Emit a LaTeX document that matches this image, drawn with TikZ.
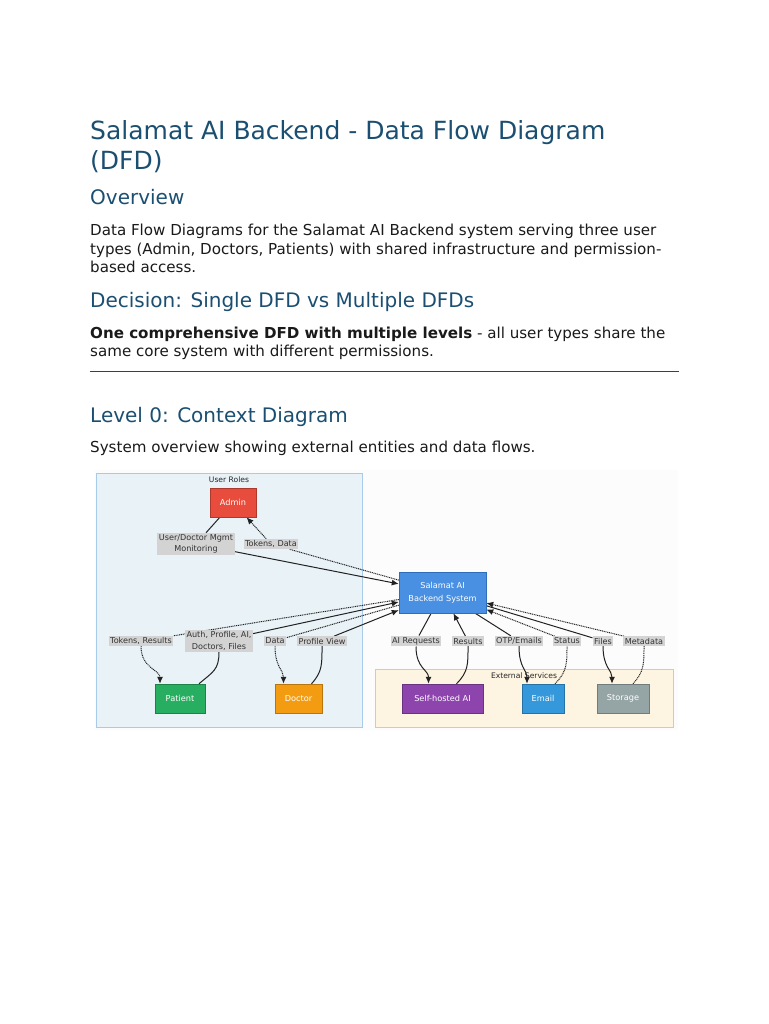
\documentclass[tikz,border=0pt]{standalone}
\usepackage{fontspec}
\setmainfont{DejaVu Sans}
\usetikzlibrary{arrows.meta,calc,backgrounds}
\pgfdeclarelayer{edges}
\pgfsetlayers{background,edges,main}
\definecolor{head}{HTML}{1B4F72}
\definecolor{txt}{HTML}{1A1A1A}
\definecolor{rolefill}{HTML}{E8F2F7}
\definecolor{roleline}{HTML}{A9CBEA}
\definecolor{extfill}{HTML}{FEF4E2}
\definecolor{extline}{HTML}{F3C67C}
\definecolor{cadmin}{HTML}{E74C3C}
\definecolor{cback}{HTML}{4A90E2}
\definecolor{cbackline}{HTML}{2E6DB8}
\definecolor{cpat}{HTML}{27AE60}
\definecolor{cdoc}{HTML}{F39C12}
\definecolor{cai}{HTML}{8E44AD}
\definecolor{cmail}{HTML}{3498DB}
\definecolor{cstore}{HTML}{95A5A6}
\definecolor{lblfill}{HTML}{D2D2D2}
\definecolor{edgecol}{HTML}{222222}
\tikzset{
  x=1pt, y=-1pt,
  hstyle/.style={anchor=base west, inner sep=0pt, text=head},
  bstyle/.style={anchor=base west, inner sep=0pt, text=txt, font=\fontsize{15.1}{18}\selectfont},
  proc/.style={draw=#1!75!black, fill=#1, text=white, line width=0.5pt, inner sep=0pt,
    minimum height=29pt, font=\fontsize{8.2}{12.5}\selectfont, align=center},
  lbl/.style={fill=lblfill, fill opacity=0.95, text opacity=1, text=black!80, inner sep=1.5pt,
    font=\fontsize{8.1}{11.5}\selectfont, align=center},
  flow/.style={draw=edgecol, line width=1pt},
  dflow/.style={draw=edgecol, line width=1pt, dash pattern=on 1pt off 0.8pt},
  arr/.style={-{Latex[length=7pt,width=6pt]}},
}
\begin{document}
\begin{tikzpicture}
\useasboundingbox (0,0) rectangle (768,1024);
\begin{pgfonlayer}{background}
\fill[white] (0,0) rectangle (768,1024);
\fill[black!1] (95,470) rectangle (678,730);
\draw[draw=roleline, fill=rolefill, line width=0.8pt] (96,473.5) rectangle (362,727);
\draw[draw=extline, fill=extfill, line width=0.8pt] (375,669.5) rectangle (673,727);
\end{pgfonlayer}

% ---------- text ----------
\node[hstyle, font=\fontsize{25}{30}\selectfont] (t1) at (90,140) {Salamat AI Backend - Data Flow Diagram};
\node[hstyle, font=\fontsize{25}{30}\selectfont] (t2) at (90,170) {(DFD)};
\node[hstyle, font=\fontsize{20}{24}\selectfont] (h1) at (90,205) {Overview};
\node[bstyle] (p1) at (90,236) {Data Flow Diagrams for the Salamat AI Backend system serving three user};
\node[bstyle] (p2) at (90,254) {types (Admin, Doctors, Patients) with shared infrastructure and permission-};
\node[bstyle] (p3) at (90,272) {based access.};
\node[hstyle, font=\fontsize{20}{24}\selectfont] (h2) at (90,307) {Decision: Single DFD vs Multiple DFDs};
\node[bstyle] (p4) at (90,338) {\textbf{One comprehensive DFD with multiple levels} - all user types share the};
\node[bstyle] (p5) at (90,356) {same core system with different permissions.};
\draw[line width=0.9pt, draw=black!75] (90,371.5) -- (679,371.5);
\node[hstyle, font=\fontsize{20}{24}\selectfont] (h3) at (90,422) {Level 0: Context Diagram};
\node[bstyle] (p6) at (90,452) {System overview showing external entities and data flows.};

% ---------- group titles ----------
\node[font=\fontsize{7.6}{9}\selectfont, text=black!85, inner sep=0pt] (troles) at (229,480) {User Roles};
\node[font=\fontsize{7.6}{9}\selectfont, text=black!85, inner sep=0pt] (text) at (524,675.5) {External Services};

% ---------- process nodes ----------
\node[proc=cadmin, minimum width=46pt] (admin) at (233,502.5) {Admin};
\node[proc=cback, draw=cbackline, minimum width=87pt, minimum height=41pt] (backend) at (442.5,592.5) {Salamat AI\\Backend System};
\node[proc=cpat, minimum width=50pt] (patient) at (180,698.5) {Patient};
\node[proc=cdoc, minimum width=47pt] (doctor) at (298.5,698.5) {Doctor};
\node[proc=cai, minimum width=81pt] (ai) at (442.5,698.5) {Self-hosted AI};
\node[proc=cmail, minimum width=42pt] (email) at (543,698.5) {Email};
\node[proc=cstore, minimum width=52pt] (storage) at (623,698.5) {Storage};

% ---------- labels ----------
\node[lbl] (lmgmt) at (196,544) {User/Doctor Mgmt\\Monitoring};
\node[lbl] (ltokdata) at (271,544) {Tokens, Data};
\node[lbl] (ltokres) at (141,641) {Tokens, Results};
\node[lbl] (lauth) at (219,641) {Auth, Profile, AI,\\Doctors, Files};
\node[lbl] (ldata) at (275,641) {Data};
\node[lbl] (lprof) at (322,641) {Profile View};
\node[lbl] (laireq) at (416,641) {AI Requests};
\node[lbl] (lres) at (468,641) {Results};
\node[lbl] (lotp) at (519,641) {OTP/Emails};
\node[lbl] (lstatus) at (567,641) {Status};
\node[lbl] (lfiles) at (603,641) {Files};
\node[lbl] (lmeta) at (644,641) {Metadata};

% ---------- edges ----------
\begin{pgfonlayer}{edges}
% Admin
\draw[flow] (admin) -- (lmgmt);
\draw[flow, arr] (lmgmt) -- (backend);
\draw[dflow] (backend) -- (ltokdata);
\draw[dflow, arr] (ltokdata) -- (admin);
% Patient
\draw[flow] ($(patient.north)+(19,0)$) .. controls ($(patient.north)+(33,-12)$) and ($(lauth.south)+(0,18)$) .. (lauth.south);
\draw[flow, arr] (lauth) -- (backend);
\draw[dflow] (backend) -- (ltokres);
\draw[dflow, arr] (ltokres.south) .. controls ($(ltokres.south)+(0,22)$) and ($(patient.north)+(-20,-14)$) .. ($(patient.north)+(-20,0)$);
% Doctor
\draw[flow] ($(doctor.north)+(13,0)$) .. controls ($(doctor.north)+(24,-12)$) and ($(lprof.south)+(0,18)$) .. (lprof.south);
\draw[flow, arr] (lprof) -- (backend);
\draw[dflow] (backend) -- (ldata);
\draw[dflow, arr] (ldata.south) .. controls ($(ldata.south)+(0,22)$) and ($(doctor.north)+(-15,-14)$) .. ($(doctor.north)+(-15,0)$);
% Self-hosted AI
\draw[flow] (backend) -- (laireq);
\draw[flow, arr] (laireq.south) .. controls ($(laireq.south)+(0,22)$) and ($(ai.north)+(-14,-14)$) .. ($(ai.north)+(-14,0)$);
\draw[flow] ($(ai.north)+(14,0)$) .. controls ($(ai.north)+(26,-12)$) and ($(lres.south)+(0,18)$) .. (lres.south);
\draw[flow, arr] (lres) -- (backend);
% Email
\draw[flow] (backend) -- (lotp);
\draw[flow, arr] (lotp.south) .. controls ($(lotp.south)+(0,22)$) and ($(email.north)+(-16,-14)$) .. ($(email.north)+(-16,0)$);
\draw[dflow] ($(email.north)+(12,0)$) .. controls ($(email.north)+(24,-12)$) and ($(lstatus.south)+(0,18)$) .. (lstatus.south);
\draw[dflow, arr] (lstatus) -- (backend);
% Storage
\draw[flow] (backend) -- (lfiles);
\draw[flow, arr] (lfiles.south) .. controls ($(lfiles.south)+(0,22)$) and ($(storage.north)+(-11,-14)$) .. ($(storage.north)+(-11,0)$);
\draw[dflow] ($(storage.north)+(10,0)$) .. controls ($(storage.north)+(21,-12)$) and ($(lmeta.south)+(0,18)$) .. (lmeta.south);
\draw[dflow, arr] (lmeta) -- (backend);
\end{pgfonlayer}
\end{tikzpicture}
\end{document}
